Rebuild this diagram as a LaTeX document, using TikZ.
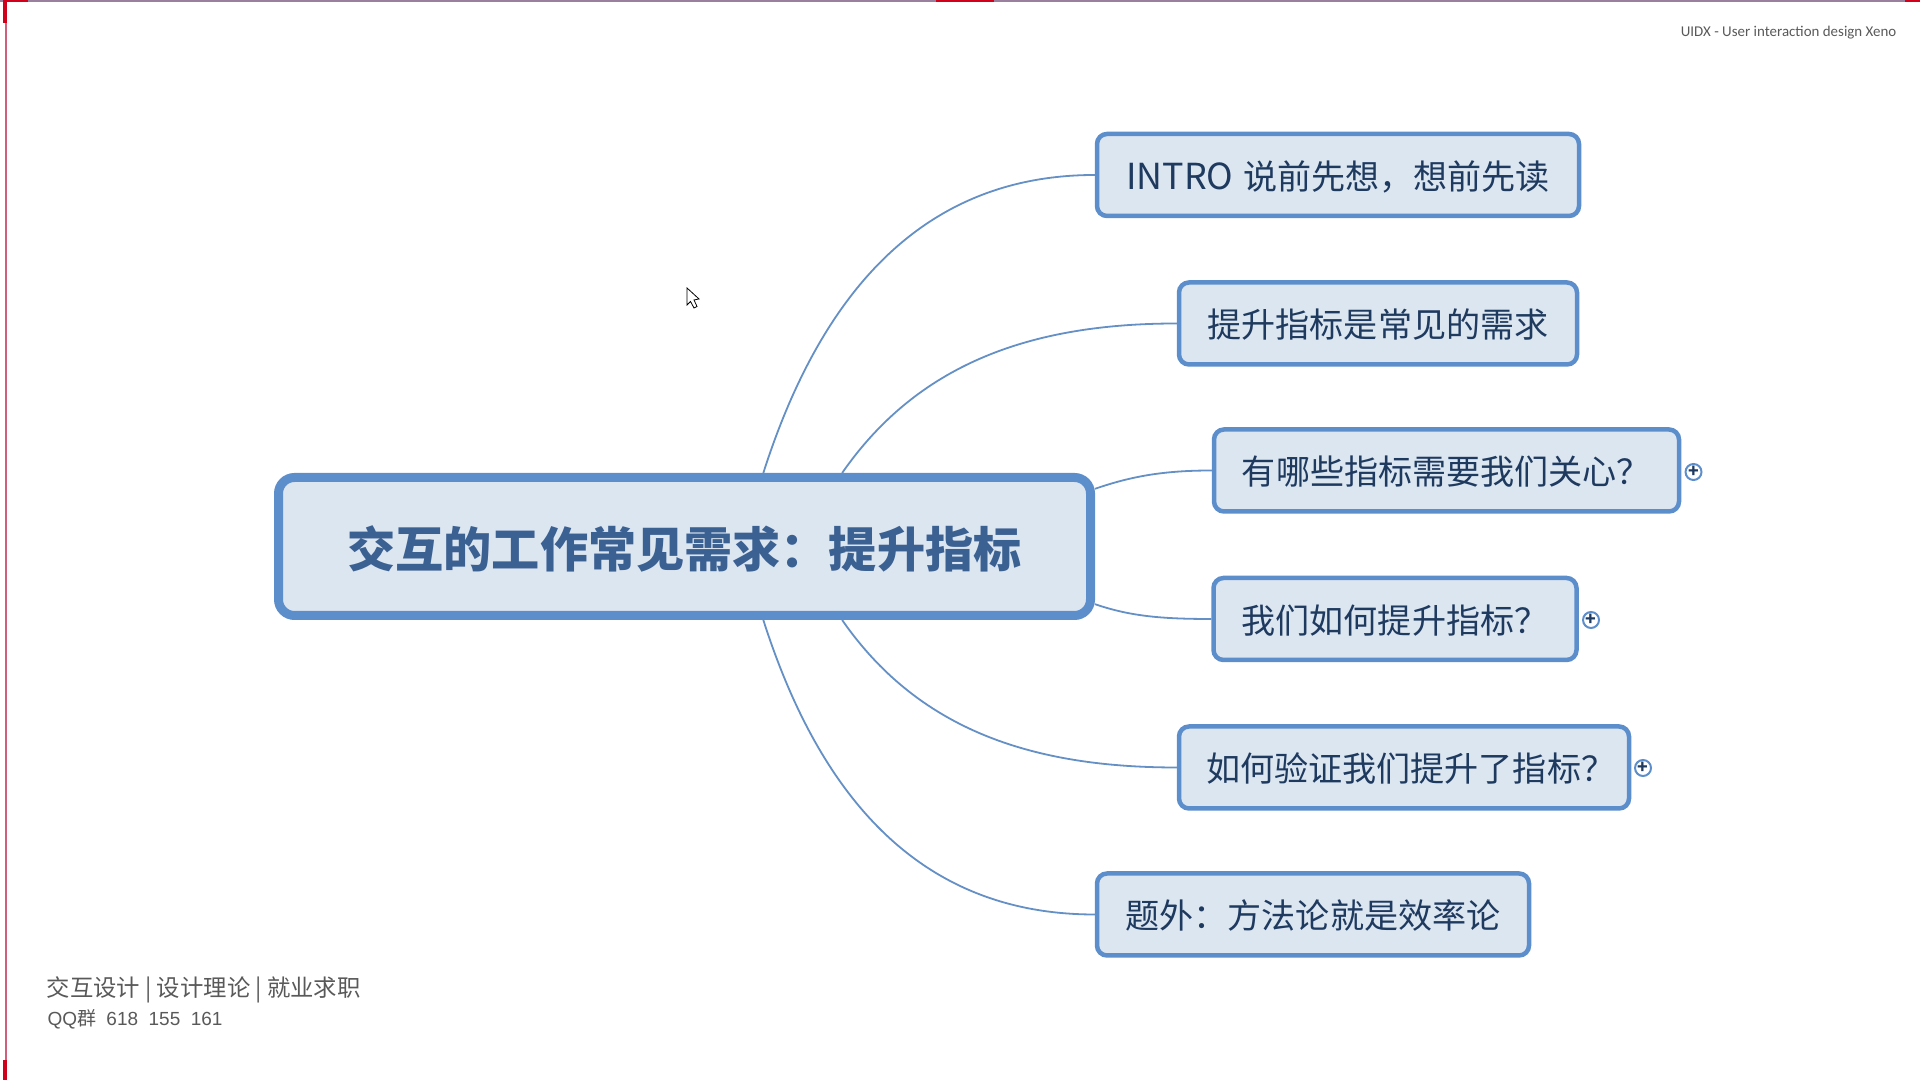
\documentclass[tikz,border=0pt]{standalone}
\usepackage{fontspec}
\setmainfont{Noto Sans CJK SC}
\newfontfamily\notefont{Carlito}
\newfontfamily\qqfont{Liberation Sans}
\definecolor{boxline}{HTML}{5D8ECC}
\definecolor{boxfill}{HTML}{DCE6F1}
\definecolor{linkline}{HTML}{6490C6}
\definecolor{topictext}{HTML}{1F3A5F}
\definecolor{maintext}{HTML}{3B6092}
\definecolor{footgray}{HTML}{595959}
\definecolor{edgered}{HTML}{D0021B}
\definecolor{edgeline}{HTML}{9A7F9F}
\definecolor{edgepink}{HTML}{D0607A}
\tikzset{
    maintopic/.style={rectangle,rounded corners=0.16cm,draw=boxline,fill=boxfill,line width=0.09cm,
        minimum width=8.12cm,minimum height=1.38cm,inner sep=0pt,text height=0.5cm,text depth=0.074cm,
        text=maintext,font=\fontsize{13.7}{16}\selectfont\bfseries},
    subtopic/.style={rectangle,rounded corners=0.1cm,draw=boxline,fill=boxfill,line width=0.045cm,
        minimum height=0.82cm,inner sep=0pt,text height=0.34cm,text depth=0.058cm,
        text=topictext,font=\fontsize{9.7}{12}\selectfont},
    expander/.style={circle,draw=boxline,fill=white,line width=0.02cm,minimum width=0.16cm,inner sep=0pt,
        text=topictext,font=\fontsize{5}{5}\selectfont\bfseries},
    link/.style={draw=linkline,line width=0.018cm},
    foot/.style={anchor=west,inner sep=0pt,text=footgray}
}
\begin{document}
\begin{tikzpicture}
    \useasboundingbox (0,0) rectangle (19.2,10.8);
    % frame of the window
    \fill[edgeline] (0,10.78) rectangle (19.2,10.8);
    \fill[edgepink] (0.055,0) rectangle (0.07,10.8);
    \fill[edgered] (0.03,10.57) rectangle (0.07,10.8);
    \fill[edgered] (0.03,10.78) rectangle (0.28,10.8);
    \fill[edgered] (0.03,0) rectangle (0.07,0.2);
    \fill[edgered] (9.36,10.78) rectangle (9.94,10.8);
    \fill[edgered] (19.05,10.78) rectangle (19.2,10.8);
    % topics
    \node[maintopic] (main) at (6.845,5.335) {交互的工作常见需求：提升指标};
    \node[subtopic,minimum width=4.82cm] (intro) at (13.38,9.05) {{\fontsize{10.2}{12}\selectfont INTRO}\hspace{0.02cm} 说前先想，想前先读};
    \node[subtopic,minimum width=3.98cm] (need) at (13.78,7.565) {提升指标是常见的需求};
    \node[subtopic,minimum width=4.65cm] (which) at (14.465,6.095) {有哪些指标需要我们关心？};
    \node[subtopic,minimum width=3.63cm] (how) at (13.95,4.61) {我们如何提升指标？};
    \node[subtopic,minimum width=4.5cm] (verify) at (14.04,3.125) {\hspace*{0.134cm}如何验证我们提升了指标？};
    \node[subtopic,minimum width=4.32cm] (aside) at (13.13,1.655) {题外：方法论就是效率论};
    % collapsed markers
    \node[expander] (whichplus) at (16.935,6.08) {+};
    \node[expander] (howplus) at (15.91,4.6) {+};
    \node[expander] (verifyplus) at (16.43,3.12) {+};
    % links
    \draw[link] (main.43) .. controls +(0.68,2.13) and +(-1.46,0) .. (intro.west);
    \draw[link] (main.25.6) .. controls +(0.75,1.08) and +(-1.48,0) .. (need.west);
    \draw[link] (main.8.1) .. controls +(0.35,0.12) and +(-0.5,0) .. (which.west);
    \draw[link] (main.-8.1) .. controls +(0.35,-0.12) and +(-0.5,0) .. (how.west);
    \draw[link] (main.-25.6) .. controls +(0.75,-1.08) and +(-1.48,0) .. (verify.west);
    \draw[link] (main.-43) .. controls +(0.68,-2.13) and +(-1.46,0) .. (aside.west);
    % texts in the corners
    \node[anchor=east,inner sep=0pt,text=footgray] (credit) at (18.97,10.475) {\notefont\fontsize{4.25}{5}\selectfont UIDX - User interaction design Xeno};
    \node[foot,font=\fontsize{6.65}{8}\selectfont] (tags) at (0.46,0.905) {交互设计 | 设计理论 | 就业求职};
    \node[foot,font=\fontsize{5.4}{7}\selectfont] (qq) at (0.47,0.605) {{\qqfont QQ}群\hspace{0.05cm}{\qqfont\ 618\ \ 155\ \ 161}};
    % mouse pointer
    \draw[black,fill=white,line width=0.008cm] (6.87,7.92) -- (6.87,7.75) -- (6.905,7.785) -- (6.94,7.72) -- (6.97,7.735) -- (6.94,7.80) -- (6.99,7.81) -- cycle;
\end{tikzpicture}
\end{document}
